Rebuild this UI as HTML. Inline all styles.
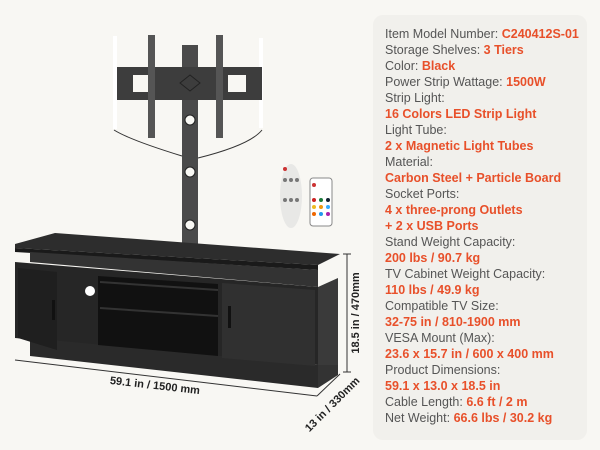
<!DOCTYPE html>
<html><head><meta charset="utf-8"><style>
body{margin:0;width:600px;height:450px;background:#f8f7f3;overflow:hidden;position:relative;font-family:"Liberation Sans",sans-serif}
svg{position:absolute;left:0;top:0}
.panel{position:absolute;left:373px;top:15px;width:214px;height:425px;background:#f1f0ec;border-radius:10px}
.t{position:absolute;left:385px;font-size:12.5px;color:#555;white-space:nowrap;line-height:16px}
.o{color:#e8502a;font-weight:bold}
</style></head><body>
<svg width="600" height="450" viewBox="0 0 600 450">
<!-- light tubes -->
<rect x="113" y="36" width="4" height="93" fill="#fff"/>
<rect x="259" y="38" width="4" height="90" fill="#fff"/>
<path d="M114 130 Q130 140 182 156" stroke="#333" fill="none" stroke-width="1"/>
<path d="M262 130 Q250 145 198 158" stroke="#333" fill="none" stroke-width="1"/>
<!-- pole -->
<rect x="182" y="45" width="16" height="200" fill="#4a4a4a"/>
<circle cx="190" cy="120" r="5" fill="#f8f7f3" stroke="#222"/>
<circle cx="190" cy="172" r="5" fill="#f8f7f3" stroke="#222"/>
<circle cx="190" cy="225" r="5" fill="#f8f7f3" stroke="#222"/>
<!-- bracket -->
<rect x="117" y="67" width="145" height="33" fill="#3d3d3d"/>
<rect x="133" y="75" width="18" height="17" fill="#f8f7f3"/>
<rect x="228" y="75" width="18" height="17" fill="#f8f7f3"/>
<polygon points="190,75 200,83 190,91 180,83" fill="none" stroke="#222"/>
<rect x="148" y="35" width="7" height="103" fill="#555"/>
<rect x="216" y="35" width="7" height="103" fill="#555"/>
<!-- remotes -->
<ellipse cx="291" cy="196" rx="11" ry="32" fill="#e8e8e6"/>
<rect x="310" y="178" width="22" height="48" rx="3" fill="#fff" stroke="#888"/>
<g fill="#c33"><circle cx="285" cy="169" r="2"/><circle cx="314" cy="185" r="2"/></g>
<g fill="#777"><circle cx="285" cy="180" r="2"/><circle cx="291" cy="180" r="2"/><circle cx="297" cy="180" r="2"/><circle cx="285" cy="200" r="2"/><circle cx="291" cy="200" r="2"/><circle cx="297" cy="200" r="2"/></g>
<g><circle cx="314" cy="200" r="2" fill="#c22"/><circle cx="321" cy="200" r="2" fill="#1a7a3a"/><circle cx="328" cy="200" r="2" fill="#123"/><circle cx="314" cy="207" r="2" fill="#eb2"/><circle cx="321" cy="207" r="2" fill="#e91"/><circle cx="328" cy="207" r="2" fill="#3af"/><circle cx="314" cy="214" r="2" fill="#e60"/><circle cx="321" cy="214" r="2" fill="#29e"/><circle cx="328" cy="214" r="2" fill="#a2a"/></g>
<!-- stand -->
<polygon points="15,244 55,233 340,254 318,265 15,248" fill="#2d2d2d"/>
<polygon points="15,248 318,265 318,270 15,252" fill="#1a1a1a"/>
<polygon points="30,252 318,270 318,287 30,262" fill="#333"/>
<polygon points="15,262 318,287 318,365 15,338" fill="#262626"/>
<polygon points="318,287 338,278 338,365 318,373" fill="#3a3a3a"/>
<polygon points="30,338 318,365 318,388 30,356" fill="#2a2a2a"/>
<polygon points="318,365 338,365 338,375 318,388" fill="#333"/>
<polygon points="18,268 57,272 57,350 18,338" fill="#1f1f1f"/>
<polygon points="222,283 315,290 315,366 222,358" fill="#303030"/>
<polygon points="98,276 218,284 218,356 98,345" fill="#111"/>
<line x1="100" y1="308" x2="218" y2="316" stroke="#333" stroke-width="2"/>
<line x1="100" y1="282" x2="218" y2="290" stroke="#333" stroke-width="2"/>
<circle cx="90" cy="291" r="5" fill="#fff"/>
<rect x="52" y="300" width="3" height="20" fill="#111"/>
<rect x="228" y="306" width="3" height="22" fill="#111"/>
<!-- dims -->
<line x1="15" y1="360" x2="317" y2="396" stroke="#333"/>
<line x1="317" y1="396" x2="340" y2="374" stroke="#333"/>
<line x1="347" y1="254" x2="347" y2="372" stroke="#333"/>
<line x1="343" y1="254" x2="351" y2="254" stroke="#333"/>
<line x1="343" y1="372" x2="351" y2="372" stroke="#333"/>
<g font-family="Liberation Sans" font-weight="bold" font-size="11" fill="#222">
<text x="155" y="389" text-anchor="middle" transform="rotate(6.5 155 385)">59.1 in / 1500 mm</text>
<text x="359" y="313" text-anchor="middle" transform="rotate(-90 359 313)">18.5 in / 470mm</text>
<text x="332" y="408" text-anchor="middle" transform="rotate(-45 332 404)">13 in / 330mm</text>
</g>
</svg>
<div class="panel"></div>
<div class="t" style="top:26px">Item Model Number: <span class="o">C240412S-01</span></div>
<div class="t" style="top:42px">Storage Shelves: <span class="o">3 Tiers</span></div>
<div class="t" style="top:58px">Color: <span class="o">Black</span></div>
<div class="t" style="top:74px">Power Strip Wattage: <span class="o">1500W</span></div>
<div class="t" style="top:90px">Strip Light:</div>
<div class="t o" style="top:106px">16 Colors LED Strip Light</div>
<div class="t" style="top:122px">Light Tube:</div>
<div class="t o" style="top:138px">2 x Magnetic Light Tubes</div>
<div class="t" style="top:154px">Material:</div>
<div class="t o" style="top:170px">Carbon Steel + Particle Board</div>
<div class="t" style="top:186px">Socket Ports:</div>
<div class="t o" style="top:202px">4 x three-prong Outlets</div>
<div class="t o" style="top:218px">+ 2 x USB Ports</div>
<div class="t" style="top:234px">Stand Weight Capacity:</div>
<div class="t o" style="top:250px">200 lbs / 90.7 kg</div>
<div class="t" style="top:266px">TV Cabinet Weight Capacity:</div>
<div class="t o" style="top:282px">110 lbs / 49.9 kg</div>
<div class="t" style="top:298px">Compatible TV Size:</div>
<div class="t o" style="top:314px">32-75 in / 810-1900 mm</div>
<div class="t" style="top:330px">VESA Mount (Max):</div>
<div class="t o" style="top:346px">23.6 x 15.7 in / 600 x 400 mm</div>
<div class="t" style="top:362px">Product Dimensions:</div>
<div class="t o" style="top:378px">59.1 x 13.0 x 18.5 in</div>
<div class="t" style="top:394px">Cable Length: <span class="o">6.6 ft / 2 m</span></div>
<div class="t" style="top:410px">Net Weight: <span class="o">66.6 lbs / 30.2 kg</span></div>
</body></html>
